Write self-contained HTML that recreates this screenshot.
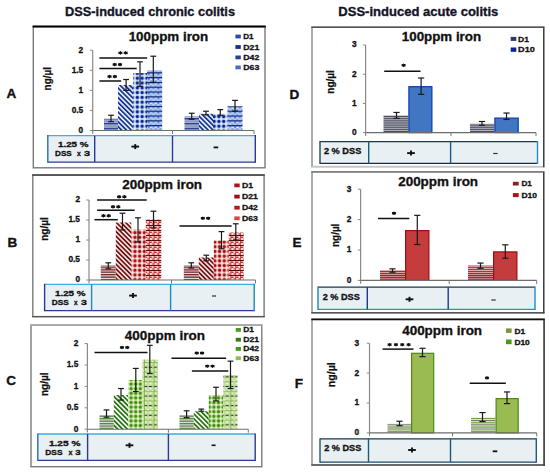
<!DOCTYPE html>
<html><head><meta charset="utf-8"><title>DSS-induced colitis iron</title>
<style>html,body{margin:0;padding:0;background:#fff;overflow:hidden;} svg text{font-family:"Liberation Sans", sans-serif;}</style>
</head><body>
<svg width="550" height="474" viewBox="0 0 550 474" style="display:block" font-family="Liberation Sans, sans-serif"><defs>
<pattern id="bH" patternUnits="userSpaceOnUse" width="4" height="4.9" y="0.3"><rect width="4" height="4.9" fill="#c4d2ee"/><rect y="0" width="4" height="1.5" fill="#1a2c9c"/><rect y="2.45" width="4" height="1.4" fill="#7c84a4"/></pattern>
<pattern id="bD" patternUnits="userSpaceOnUse" width="3.4" height="3.4" patternTransform="rotate(-45)"><rect width="3.4" height="3.4" fill="#dceafa"/><rect width="1.6" height="3.4" fill="#142a8c"/></pattern>
<pattern id="bO" patternUnits="userSpaceOnUse" width="4.8" height="4.8" x="0.5" y="-1"><rect width="4.8" height="4.8" fill="#bcd6f4"/><circle cx="2.4" cy="2.4" r="1.6" fill="#0e1e8a"/><circle cx="0" cy="0" r="0.9" fill="#eef6ff"/><circle cx="4.8" cy="0" r="0.9" fill="#eef6ff"/><circle cx="0" cy="4.8" r="0.9" fill="#eef6ff"/><circle cx="4.8" cy="4.8" r="0.9" fill="#eef6ff"/></pattern>
<pattern id="bB" patternUnits="userSpaceOnUse" width="9.6" height="4.8" y="0.3"><rect width="9.6" height="4.8" fill="#80a8e2"/><rect y="0" width="9.6" height="1.2" fill="#101c80"/><rect x="0.8" y="1.7" width="2.8" height="1" fill="#f4f8ff"/><rect x="5.6" y="1.7" width="2.8" height="1" fill="#f4f8ff"/><rect x="3.2" y="3.3" width="2.8" height="1" fill="#e8f2ff"/><rect x="8" y="3.3" width="1.6" height="1" fill="#e8f2ff"/><rect x="0" y="3.3" width="1.2" height="1" fill="#e8f2ff"/><rect x="4.4" y="1.2" width="0.8" height="1.8" fill="#2a4aa8"/></pattern>
<pattern id="rH" patternUnits="userSpaceOnUse" width="4" height="4.8" y="0.5"><rect width="4" height="4.8" fill="#f8e4e4"/><rect y="0" width="4" height="1.3" fill="#8c1010"/><rect y="2.4" width="4" height="1.2" fill="#3a2020"/></pattern>
<pattern id="rD" patternUnits="userSpaceOnUse" width="3.3" height="3.3" patternTransform="rotate(-45)"><rect width="3.3" height="3.3" fill="#f8dede"/><rect width="1.6" height="3.3" fill="#6a0c0c"/></pattern>
<pattern id="rO" patternUnits="userSpaceOnUse" width="4.7" height="4.7" x="1" y="0"><rect width="4.7" height="4.7" fill="#eec0c0"/><circle cx="2.35" cy="2.35" r="1.55" fill="#a80c0c"/><circle cx="0" cy="0" r="1.1" fill="#fbeaea"/><circle cx="4.7" cy="0" r="1.1" fill="#fbeaea"/><circle cx="0" cy="4.7" r="1.1" fill="#fbeaea"/><circle cx="4.7" cy="4.7" r="1.1" fill="#fbeaea"/></pattern>
<pattern id="rB" patternUnits="userSpaceOnUse" width="9.6" height="5"><rect width="9.6" height="5" fill="#f8e0e0"/><rect y="0" width="9.6" height="1" fill="#5a0c0c"/><rect x="0.8" y="1.6" width="2.4" height="1.4" fill="#d02a2a"/><rect x="5.6" y="1.6" width="2.4" height="1.4" fill="#d02a2a"/><rect x="3.2" y="3.4" width="2.4" height="1.2" fill="#d02a2a"/><rect x="8" y="3.4" width="1.6" height="1.2" fill="#d02a2a"/><rect x="0" y="1" width="0.7" height="4" fill="#b01818"/><rect x="4.8" y="1" width="0.7" height="4" fill="#b01818"/></pattern>
<pattern id="gH" patternUnits="userSpaceOnUse" width="4" height="4.8" y="0.5"><rect width="4" height="4.8" fill="#e4eedc"/><rect y="0" width="4" height="1.3" fill="#3e8a1e"/><rect y="2.4" width="4" height="1.3" fill="#6c6c6c"/></pattern>
<pattern id="gD" patternUnits="userSpaceOnUse" width="3.4" height="3.4" patternTransform="rotate(-45)"><rect width="3.4" height="3.4" fill="#f2f8ea"/><rect width="1.6" height="3.4" fill="#1e6a0c"/></pattern>
<pattern id="gO" patternUnits="userSpaceOnUse" width="4.6" height="4.6"><rect width="4.6" height="4.6" fill="#c2de96"/><circle cx="2.3" cy="2.3" r="1.55" fill="#3c8e12"/><circle cx="0" cy="0" r="0.9" fill="#f4faec"/><circle cx="4.6" cy="0" r="0.9" fill="#f4faec"/><circle cx="0" cy="4.6" r="0.9" fill="#f4faec"/><circle cx="4.6" cy="4.6" r="0.9" fill="#f4faec"/></pattern>
<pattern id="gB" patternUnits="userSpaceOnUse" width="9.6" height="9.6" y="2"><rect width="9.6" height="9.6" fill="#c0de94"/><rect x="0.6" y="1.6" width="1.8" height="1.6" fill="#f6fbef"/><rect x="5.4" y="1.6" width="1.8" height="1.6" fill="#f6fbef"/><rect x="3" y="3.8" width="1.8" height="1.6" fill="#f6fbef"/><rect x="7.8" y="3.8" width="1.6" height="1.6" fill="#f6fbef"/><rect x="0.6" y="6.4" width="1.8" height="1.6" fill="#f6fbef"/><rect x="5.4" y="6.4" width="1.8" height="1.6" fill="#f6fbef"/><rect x="0" y="0" width="3.2" height="1" fill="#2a2a2a"/><rect x="4.8" y="0" width="3.2" height="1" fill="#2a2a2a"/><rect x="0" y="4.8" width="9.6" height="0.7" fill="#7ab048"/><rect x="0" y="0" width="0.8" height="9.6" fill="#78ae40"/></pattern>
<pattern id="kH" patternUnits="userSpaceOnUse" width="4" height="1.9"><rect width="4" height="1.9" fill="#d4d6de"/><rect y="0" width="4" height="1.05" fill="#3c3e50"/></pattern>
<pattern id="eH" patternUnits="userSpaceOnUse" width="4" height="2.1"><rect width="4" height="2.1" fill="#a41c1c"/><rect y="1.2" width="4" height="0.75" fill="#f2e2e2"/></pattern>
<pattern id="fH" patternUnits="userSpaceOnUse" width="4" height="3.8"><rect width="4" height="3.8" fill="#eef4e4"/><rect y="0" width="4" height="1" fill="#6aa030"/><rect y="1.9" width="4" height="1" fill="#6a6a6a"/></pattern>
</defs>
<rect width="550" height="474" fill="#fff"/><text x="65" y="15.6" font-size="13" font-weight="bold" fill="#141428" text-anchor="start" textLength="170" lengthAdjust="spacingAndGlyphs" stroke="#141428" stroke-width="0.35" >DSS-induced chronic colitis</text><text x="338.3" y="15.6" font-size="13" font-weight="bold" fill="#141428" text-anchor="start" textLength="160" lengthAdjust="spacingAndGlyphs" stroke="#141428" stroke-width="0.35" >DSS-induced acute colitis</text><rect x="33.30" y="26.60" width="231.70" height="141.20" fill="#fff" stroke="#7a7a7a" stroke-width="1.4" /><line x1="32.60" y1="26.60" x2="265.70" y2="26.60" stroke="#000" stroke-width="2"/><text x="6.6" y="97.8" font-size="13.5" font-weight="bold" fill="#111" text-anchor="start" stroke="#111" stroke-width="0.35" >A</text><rect x="104.00" y="118.80" width="14.00" height="11.70" fill="url(#bH)" stroke="none" stroke-width="1" /><rect x="118.00" y="85.00" width="15.30" height="45.50" fill="url(#bD)" stroke="none" stroke-width="1" /><rect x="133.30" y="73.10" width="13.70" height="57.40" fill="url(#bO)" stroke="none" stroke-width="1" /><rect x="147.00" y="70.30" width="15.20" height="60.20" fill="url(#bB)" stroke="none" stroke-width="1" /><rect x="184.50" y="116.30" width="14.50" height="14.20" fill="url(#bH)" stroke="none" stroke-width="1" /><rect x="199.00" y="113.80" width="14.00" height="16.70" fill="url(#bD)" stroke="none" stroke-width="1" /><rect x="213.00" y="113.80" width="14.50" height="16.70" fill="url(#bO)" stroke="none" stroke-width="1" /><rect x="227.50" y="106.30" width="15.00" height="24.20" fill="url(#bB)" stroke="none" stroke-width="1" /><line x1="92.70" y1="50.20" x2="92.70" y2="133.80" stroke="#8a8a8a" stroke-width="1.2"/><line x1="89.90" y1="130.50" x2="92.70" y2="130.50" stroke="#8a8a8a" stroke-width="1"/><text x="83.2" y="132.95" font-size="8.3" font-weight="bold" fill="#111" text-anchor="end" stroke="#111" stroke-width="0.3" >0</text><line x1="89.90" y1="110.42" x2="92.70" y2="110.42" stroke="#8a8a8a" stroke-width="1"/><text x="83.2" y="112.875" font-size="8.3" font-weight="bold" fill="#111" text-anchor="end" stroke="#111" stroke-width="0.3" >0.5</text><line x1="89.90" y1="90.35" x2="92.70" y2="90.35" stroke="#8a8a8a" stroke-width="1"/><text x="83.2" y="92.8" font-size="8.3" font-weight="bold" fill="#111" text-anchor="end" stroke="#111" stroke-width="0.3" >1</text><line x1="89.90" y1="70.28" x2="92.70" y2="70.28" stroke="#8a8a8a" stroke-width="1"/><text x="83.2" y="72.72500000000001" font-size="8.3" font-weight="bold" fill="#111" text-anchor="end" stroke="#111" stroke-width="0.3" >1.5</text><line x1="89.90" y1="50.20" x2="92.70" y2="50.20" stroke="#8a8a8a" stroke-width="1"/><text x="83.2" y="52.650000000000006" font-size="8.3" font-weight="bold" fill="#111" text-anchor="end" stroke="#111" stroke-width="0.3" >2</text><line x1="92.70" y1="130.50" x2="254.00" y2="130.50" stroke="#6e6e6e" stroke-width="1.1"/><line x1="172.50" y1="130.50" x2="172.50" y2="134.00" stroke="#777" stroke-width="1"/><line x1="254.00" y1="130.50" x2="254.00" y2="134.00" stroke="#777" stroke-width="1"/><text x="0" y="0" transform="translate(50.5,78.7) rotate(-90)" font-size="11.5" font-weight="bold" fill="#111" stroke="#111" stroke-width="0.25" text-anchor="middle" textLength="23.4" lengthAdjust="spacingAndGlyphs">ng/µl</text><line x1="111.00" y1="115.24" x2="111.00" y2="121.67" stroke="#1a1a1a" stroke-width="1.2"/><line x1="108.10" y1="115.24" x2="113.90" y2="115.24" stroke="#1a1a1a" stroke-width="1.2"/><line x1="108.10" y1="121.67" x2="113.90" y2="121.67" stroke="#1a1a1a" stroke-width="1.2"/><line x1="126.10" y1="79.51" x2="126.10" y2="90.35" stroke="#1a1a1a" stroke-width="1.2"/><line x1="123.20" y1="79.51" x2="129.00" y2="79.51" stroke="#1a1a1a" stroke-width="1.2"/><line x1="123.20" y1="90.35" x2="129.00" y2="90.35" stroke="#1a1a1a" stroke-width="1.2"/><line x1="140.00" y1="61.84" x2="140.00" y2="86.34" stroke="#1a1a1a" stroke-width="1.2"/><line x1="137.10" y1="61.84" x2="142.90" y2="61.84" stroke="#1a1a1a" stroke-width="1.2"/><line x1="137.10" y1="86.34" x2="142.90" y2="86.34" stroke="#1a1a1a" stroke-width="1.2"/><line x1="153.30" y1="56.22" x2="153.30" y2="82.32" stroke="#1a1a1a" stroke-width="1.2"/><line x1="150.40" y1="56.22" x2="156.20" y2="56.22" stroke="#1a1a1a" stroke-width="1.2"/><line x1="150.40" y1="82.32" x2="156.20" y2="82.32" stroke="#1a1a1a" stroke-width="1.2"/><line x1="191.70" y1="113.24" x2="191.70" y2="119.26" stroke="#1a1a1a" stroke-width="1.2"/><line x1="188.80" y1="113.24" x2="194.60" y2="113.24" stroke="#1a1a1a" stroke-width="1.2"/><line x1="188.80" y1="119.26" x2="194.60" y2="119.26" stroke="#1a1a1a" stroke-width="1.2"/><line x1="206.00" y1="111.23" x2="206.00" y2="114.84" stroke="#1a1a1a" stroke-width="1.2"/><line x1="203.10" y1="111.23" x2="208.90" y2="111.23" stroke="#1a1a1a" stroke-width="1.2"/><line x1="203.10" y1="114.84" x2="208.90" y2="114.84" stroke="#1a1a1a" stroke-width="1.2"/><line x1="220.30" y1="109.62" x2="220.30" y2="115.24" stroke="#1a1a1a" stroke-width="1.2"/><line x1="217.40" y1="109.62" x2="223.20" y2="109.62" stroke="#1a1a1a" stroke-width="1.2"/><line x1="217.40" y1="115.24" x2="223.20" y2="115.24" stroke="#1a1a1a" stroke-width="1.2"/><line x1="235.00" y1="100.39" x2="235.00" y2="111.23" stroke="#1a1a1a" stroke-width="1.2"/><line x1="232.10" y1="100.39" x2="237.90" y2="100.39" stroke="#1a1a1a" stroke-width="1.2"/><line x1="232.10" y1="111.23" x2="237.90" y2="111.23" stroke="#1a1a1a" stroke-width="1.2"/><line x1="99.40" y1="57.90" x2="147.10" y2="57.90" stroke="#111" stroke-width="1.5"/><path d="M120.40,51.70V54.00M118.90,52.22L121.90,53.48M118.90,53.48L121.90,52.22" stroke="#111" stroke-width="1.25" stroke-linecap="round" fill="none"/><circle cx="120.40" cy="52.85" r="1.1" fill="#111"/><path d="M125.70,51.70V54.00M124.20,52.22L127.20,53.48M124.20,53.48L127.20,52.22" stroke="#111" stroke-width="1.25" stroke-linecap="round" fill="none"/><circle cx="125.70" cy="52.85" r="1.1" fill="#111"/><line x1="99.40" y1="68.40" x2="136.70" y2="68.40" stroke="#111" stroke-width="1.5"/><path d="M114.70,63.40V65.70M113.20,63.92L116.20,65.18M113.20,65.18L116.20,63.92" stroke="#111" stroke-width="1.25" stroke-linecap="round" fill="none"/><circle cx="114.70" cy="64.55" r="1.1" fill="#111"/><path d="M120.00,63.40V65.70M118.50,63.92L121.50,65.18M118.50,65.18L121.50,63.92" stroke="#111" stroke-width="1.25" stroke-linecap="round" fill="none"/><circle cx="120.00" cy="64.55" r="1.1" fill="#111"/><line x1="99.40" y1="81.00" x2="121.20" y2="81.00" stroke="#111" stroke-width="1.5"/><path d="M109.55,75.40V77.70M108.05,75.92L111.05,77.18M108.05,77.18L111.05,75.92" stroke="#111" stroke-width="1.25" stroke-linecap="round" fill="none"/><circle cx="109.55" cy="76.55" r="1.1" fill="#111"/><path d="M114.85,75.40V77.70M113.35,75.92L116.35,77.18M113.35,77.18L116.35,75.92" stroke="#111" stroke-width="1.25" stroke-linecap="round" fill="none"/><circle cx="114.85" cy="76.55" r="1.1" fill="#111"/><text x="128.7" y="41.2" font-size="12" font-weight="bold" fill="#111" text-anchor="start" textLength="79.5" lengthAdjust="spacingAndGlyphs" stroke="#111" stroke-width="0.3" >100ppm iron</text><rect x="235.40" y="34.60" width="5.40" height="3.80" fill="#2a4ab0" stroke="none" stroke-width="1" /><text x="243.2" y="39" font-size="7.6" font-weight="bold" fill="#111" text-anchor="start" textLength="10.4" lengthAdjust="spacingAndGlyphs" stroke="#111" stroke-width="0.3" >D1</text><rect x="235.40" y="45.10" width="5.40" height="3.80" fill="#1c2c90" stroke="none" stroke-width="1" /><text x="243.2" y="49.5" font-size="7.6" font-weight="bold" fill="#111" text-anchor="start" textLength="16.1" lengthAdjust="spacingAndGlyphs" stroke="#111" stroke-width="0.3" >D21</text><rect x="235.40" y="55.50" width="5.40" height="3.80" fill="#2440a4" stroke="none" stroke-width="1" /><text x="243.2" y="59.9" font-size="7.6" font-weight="bold" fill="#111" text-anchor="start" textLength="16.1" lengthAdjust="spacingAndGlyphs" stroke="#111" stroke-width="0.3" >D42</text><rect x="235.40" y="65.50" width="5.40" height="3.80" fill="#4a6cc0" stroke="none" stroke-width="1" /><text x="243.2" y="69.9" font-size="7.6" font-weight="bold" fill="#111" text-anchor="start" textLength="16.1" lengthAdjust="spacingAndGlyphs" stroke="#111" stroke-width="0.3" >D63</text><rect x="47.80" y="135.70" width="207.50" height="26.40" fill="#e9f0f3" stroke="none" stroke-width="1" /><line x1="47.80" y1="135.70" x2="255.30" y2="135.70" stroke="#3ab0e0" stroke-width="1.3"/><line x1="47.80" y1="162.10" x2="255.30" y2="162.10" stroke="#2a3a9a" stroke-width="1.3"/><line x1="47.80" y1="135.10" x2="47.80" y2="162.70" stroke="#1e6fb8" stroke-width="1.4"/><line x1="255.30" y1="135.10" x2="255.30" y2="162.70" stroke="#2a3a9a" stroke-width="1.4"/><line x1="94.70" y1="135.70" x2="94.70" y2="162.10" stroke="#2a3a9a" stroke-width="1.4"/><line x1="172.50" y1="135.70" x2="172.50" y2="162.10" stroke="#2a3a9a" stroke-width="1.4"/><text x="58" y="147.1" font-size="7.4" font-weight="bold" fill="#111" text-anchor="start" textLength="30.5" lengthAdjust="spacingAndGlyphs" stroke="#111" stroke-width="0.3" >1.25 %</text><text x="55.1" y="155.7" font-size="7.4" font-weight="bold" fill="#111" text-anchor="start" textLength="16.7" lengthAdjust="spacingAndGlyphs" stroke="#111" stroke-width="0.3" >DSS</text><text x="77.1" y="155.7" font-size="7.4" font-weight="bold" fill="#111" text-anchor="start" textLength="3.8" lengthAdjust="spacingAndGlyphs" stroke="#111" stroke-width="0.3" >x</text><text x="83.9" y="155.7" font-size="7.4" font-weight="bold" fill="#111" text-anchor="start" textLength="6.1" lengthAdjust="spacingAndGlyphs" stroke="#111" stroke-width="0.3" >3</text><line x1="131.40" y1="146.60" x2="139.10" y2="146.60" stroke="#111" stroke-width="1.9"/><line x1="135.25" y1="144.10" x2="135.25" y2="149.10" stroke="#111" stroke-width="1.9"/><line x1="213.60" y1="147.40" x2="218.20" y2="147.40" stroke="#111" stroke-width="1.8"/><rect x="32.80" y="175.10" width="231.30" height="141.50" fill="#fff" stroke="#7a7a7a" stroke-width="1.4" /><line x1="32.10" y1="175.10" x2="264.80" y2="175.10" stroke="#444" stroke-width="1.5"/><line x1="32.10" y1="316.60" x2="264.80" y2="316.60" stroke="#555" stroke-width="1.4"/><text x="7.4" y="247.2" font-size="13.5" font-weight="bold" fill="#111" text-anchor="start" stroke="#111" stroke-width="0.35" >B</text><rect x="100.80" y="265.50" width="15.00" height="14.50" fill="url(#rH)" stroke="none" stroke-width="1" /><rect x="115.80" y="222.50" width="15.50" height="57.50" fill="url(#rD)" stroke="none" stroke-width="1" /><rect x="131.30" y="229.50" width="14.50" height="50.50" fill="url(#rO)" stroke="none" stroke-width="1" /><rect x="145.80" y="219.50" width="15.50" height="60.50" fill="url(#rB)" stroke="none" stroke-width="1" /><rect x="183.80" y="265.50" width="15.00" height="14.50" fill="url(#rH)" stroke="none" stroke-width="1" /><rect x="198.80" y="257.50" width="15.00" height="22.50" fill="url(#rD)" stroke="none" stroke-width="1" /><rect x="213.80" y="240.50" width="15.00" height="39.50" fill="url(#rO)" stroke="none" stroke-width="1" /><rect x="228.80" y="232.50" width="15.00" height="47.50" fill="url(#rB)" stroke="none" stroke-width="1" /><line x1="89.00" y1="200.00" x2="89.00" y2="283.30" stroke="#8a8a8a" stroke-width="1.2"/><line x1="86.20" y1="280.00" x2="89.00" y2="280.00" stroke="#8a8a8a" stroke-width="1"/><text x="80" y="282.45" font-size="8.3" font-weight="bold" fill="#111" text-anchor="end" stroke="#111" stroke-width="0.3" >0</text><line x1="86.20" y1="260.00" x2="89.00" y2="260.00" stroke="#8a8a8a" stroke-width="1"/><text x="80" y="262.45" font-size="8.3" font-weight="bold" fill="#111" text-anchor="end" stroke="#111" stroke-width="0.3" >0.5</text><line x1="86.20" y1="240.00" x2="89.00" y2="240.00" stroke="#8a8a8a" stroke-width="1"/><text x="80" y="242.45" font-size="8.3" font-weight="bold" fill="#111" text-anchor="end" stroke="#111" stroke-width="0.3" >1</text><line x1="86.20" y1="220.00" x2="89.00" y2="220.00" stroke="#8a8a8a" stroke-width="1"/><text x="80" y="222.45" font-size="8.3" font-weight="bold" fill="#111" text-anchor="end" stroke="#111" stroke-width="0.3" >1.5</text><line x1="86.20" y1="200.00" x2="89.00" y2="200.00" stroke="#8a8a8a" stroke-width="1"/><text x="80" y="202.45" font-size="8.3" font-weight="bold" fill="#111" text-anchor="end" stroke="#111" stroke-width="0.3" >2</text><line x1="89.00" y1="280.00" x2="255.50" y2="280.00" stroke="#6e6e6e" stroke-width="1.1"/><line x1="171.50" y1="280.00" x2="171.50" y2="283.50" stroke="#777" stroke-width="1"/><line x1="255.50" y1="280.00" x2="255.50" y2="283.50" stroke="#777" stroke-width="1"/><text x="0" y="0" transform="translate(48.1,229) rotate(-90)" font-size="11.5" font-weight="bold" fill="#111" stroke="#111" stroke-width="0.25" text-anchor="middle" textLength="23.5" lengthAdjust="spacingAndGlyphs">ng/µl</text><line x1="108.30" y1="262.80" x2="108.30" y2="268.80" stroke="#1a1a1a" stroke-width="1.2"/><line x1="105.40" y1="262.80" x2="111.20" y2="262.80" stroke="#1a1a1a" stroke-width="1.2"/><line x1="105.40" y1="268.80" x2="111.20" y2="268.80" stroke="#1a1a1a" stroke-width="1.2"/><line x1="122.50" y1="213.20" x2="122.50" y2="230.00" stroke="#1a1a1a" stroke-width="1.2"/><line x1="119.60" y1="213.20" x2="125.40" y2="213.20" stroke="#1a1a1a" stroke-width="1.2"/><line x1="119.60" y1="230.00" x2="125.40" y2="230.00" stroke="#1a1a1a" stroke-width="1.2"/><line x1="138.00" y1="217.80" x2="138.00" y2="242.00" stroke="#1a1a1a" stroke-width="1.2"/><line x1="135.10" y1="217.80" x2="140.90" y2="217.80" stroke="#1a1a1a" stroke-width="1.2"/><line x1="135.10" y1="242.00" x2="140.90" y2="242.00" stroke="#1a1a1a" stroke-width="1.2"/><line x1="153.50" y1="211.20" x2="153.50" y2="228.00" stroke="#1a1a1a" stroke-width="1.2"/><line x1="150.60" y1="211.20" x2="156.40" y2="211.20" stroke="#1a1a1a" stroke-width="1.2"/><line x1="150.60" y1="228.00" x2="156.40" y2="228.00" stroke="#1a1a1a" stroke-width="1.2"/><line x1="191.30" y1="262.80" x2="191.30" y2="268.00" stroke="#1a1a1a" stroke-width="1.2"/><line x1="188.40" y1="262.80" x2="194.20" y2="262.80" stroke="#1a1a1a" stroke-width="1.2"/><line x1="188.40" y1="268.00" x2="194.20" y2="268.00" stroke="#1a1a1a" stroke-width="1.2"/><line x1="206.30" y1="255.20" x2="206.30" y2="260.80" stroke="#1a1a1a" stroke-width="1.2"/><line x1="203.40" y1="255.20" x2="209.20" y2="255.20" stroke="#1a1a1a" stroke-width="1.2"/><line x1="203.40" y1="260.80" x2="209.20" y2="260.80" stroke="#1a1a1a" stroke-width="1.2"/><line x1="221.50" y1="231.60" x2="221.50" y2="248.80" stroke="#1a1a1a" stroke-width="1.2"/><line x1="218.60" y1="231.60" x2="224.40" y2="231.60" stroke="#1a1a1a" stroke-width="1.2"/><line x1="218.60" y1="248.80" x2="224.40" y2="248.80" stroke="#1a1a1a" stroke-width="1.2"/><line x1="235.80" y1="223.80" x2="235.80" y2="240.00" stroke="#1a1a1a" stroke-width="1.2"/><line x1="232.90" y1="223.80" x2="238.70" y2="223.80" stroke="#1a1a1a" stroke-width="1.2"/><line x1="232.90" y1="240.00" x2="238.70" y2="240.00" stroke="#1a1a1a" stroke-width="1.2"/><line x1="97.10" y1="200.00" x2="146.70" y2="200.00" stroke="#111" stroke-width="1.5"/><path d="M119.10,195.60V197.90M117.60,196.12L120.60,197.38M117.60,197.38L120.60,196.12" stroke="#111" stroke-width="1.25" stroke-linecap="round" fill="none"/><circle cx="119.10" cy="196.75" r="1.1" fill="#111"/><path d="M124.40,195.60V197.90M122.90,196.12L125.90,197.38M122.90,197.38L125.90,196.12" stroke="#111" stroke-width="1.25" stroke-linecap="round" fill="none"/><circle cx="124.40" cy="196.75" r="1.1" fill="#111"/><line x1="97.10" y1="210.20" x2="134.70" y2="210.20" stroke="#111" stroke-width="1.5"/><path d="M113.00,205.60V207.90M111.50,206.12L114.50,207.38M111.50,207.38L114.50,206.12" stroke="#111" stroke-width="1.25" stroke-linecap="round" fill="none"/><circle cx="113.00" cy="206.75" r="1.1" fill="#111"/><path d="M118.30,205.60V207.90M116.80,206.12L119.80,207.38M116.80,207.38L119.80,206.12" stroke="#111" stroke-width="1.25" stroke-linecap="round" fill="none"/><circle cx="118.30" cy="206.75" r="1.1" fill="#111"/><line x1="94.40" y1="219.70" x2="117.80" y2="219.70" stroke="#111" stroke-width="1.5"/><path d="M103.45,214.60V216.90M101.95,215.12L104.95,216.38M101.95,216.38L104.95,215.12" stroke="#111" stroke-width="1.25" stroke-linecap="round" fill="none"/><circle cx="103.45" cy="215.75" r="1.1" fill="#111"/><path d="M108.75,214.60V216.90M107.25,215.12L110.25,216.38M107.25,216.38L110.25,215.12" stroke="#111" stroke-width="1.25" stroke-linecap="round" fill="none"/><circle cx="108.75" cy="215.75" r="1.1" fill="#111"/><line x1="179.50" y1="226.00" x2="231.60" y2="226.00" stroke="#111" stroke-width="1.5"/><path d="M202.85,217.10V219.40M201.35,217.62L204.35,218.88M201.35,218.88L204.35,217.62" stroke="#111" stroke-width="1.25" stroke-linecap="round" fill="none"/><circle cx="202.85" cy="218.25" r="1.1" fill="#111"/><path d="M208.15,217.10V219.40M206.65,217.62L209.65,218.88M206.65,218.88L209.65,217.62" stroke="#111" stroke-width="1.25" stroke-linecap="round" fill="none"/><circle cx="208.15" cy="218.25" r="1.1" fill="#111"/><text x="122.2" y="189.4" font-size="12" font-weight="bold" fill="#111" text-anchor="start" textLength="79.9" lengthAdjust="spacingAndGlyphs" stroke="#111" stroke-width="0.3" >200ppm iron</text><rect x="234.30" y="183.50" width="5.40" height="3.80" fill="#a81818" stroke="none" stroke-width="1" /><text x="242" y="188.1" font-size="7.6" font-weight="bold" fill="#111" text-anchor="start" textLength="11.1" lengthAdjust="spacingAndGlyphs" stroke="#111" stroke-width="0.3" >D1</text><rect x="234.30" y="194.70" width="5.40" height="3.80" fill="#9a1010" stroke="none" stroke-width="1" /><text x="242" y="199.3" font-size="7.6" font-weight="bold" fill="#111" text-anchor="start" textLength="15.9" lengthAdjust="spacingAndGlyphs" stroke="#111" stroke-width="0.3" >D21</text><rect x="234.30" y="205.80" width="5.40" height="3.80" fill="#b41818" stroke="none" stroke-width="1" /><text x="242" y="210.4" font-size="7.6" font-weight="bold" fill="#111" text-anchor="start" textLength="15.9" lengthAdjust="spacingAndGlyphs" stroke="#111" stroke-width="0.3" >D42</text><rect x="234.30" y="216.40" width="5.40" height="3.80" fill="#d04848" stroke="none" stroke-width="1" /><text x="242" y="221" font-size="7.6" font-weight="bold" fill="#111" text-anchor="start" textLength="15.9" lengthAdjust="spacingAndGlyphs" stroke="#111" stroke-width="0.3" >D63</text><rect x="44.60" y="284.40" width="209.60" height="26.20" fill="#e9f0f3" stroke="none" stroke-width="1" /><line x1="44.60" y1="284.40" x2="254.20" y2="284.40" stroke="#3ab0e0" stroke-width="1.3"/><line x1="44.60" y1="310.60" x2="254.20" y2="310.60" stroke="#2a3a9a" stroke-width="1.3"/><line x1="44.60" y1="283.80" x2="44.60" y2="311.20" stroke="#2a3a9a" stroke-width="1.4"/><line x1="254.20" y1="283.80" x2="254.20" y2="311.20" stroke="#1a8ab0" stroke-width="1.4"/><line x1="91.60" y1="284.40" x2="91.60" y2="310.60" stroke="#1e8ac0" stroke-width="1.4"/><line x1="170.60" y1="284.40" x2="170.60" y2="310.60" stroke="#1e8ac0" stroke-width="1.4"/><text x="55" y="295.5" font-size="7.4" font-weight="bold" fill="#111" text-anchor="start" textLength="30.5" lengthAdjust="spacingAndGlyphs" stroke="#111" stroke-width="0.3" >1.25 %</text><text x="51.8" y="305.3" font-size="7.4" font-weight="bold" fill="#111" text-anchor="start" textLength="17" lengthAdjust="spacingAndGlyphs" stroke="#111" stroke-width="0.3" >DSS</text><text x="74.1" y="305.3" font-size="7.4" font-weight="bold" fill="#111" text-anchor="start" textLength="3.6" lengthAdjust="spacingAndGlyphs" stroke="#111" stroke-width="0.3" >x</text><text x="80.9" y="305.3" font-size="7.4" font-weight="bold" fill="#111" text-anchor="start" textLength="5.9" lengthAdjust="spacingAndGlyphs" stroke="#111" stroke-width="0.3" >3</text><line x1="129.15" y1="295.60" x2="136.85" y2="295.60" stroke="#111" stroke-width="1.9"/><line x1="133.00" y1="293.10" x2="133.00" y2="298.10" stroke="#111" stroke-width="1.9"/><line x1="212.00" y1="296.00" x2="216.00" y2="296.00" stroke="#333" stroke-width="1.2"/><rect x="31.00" y="325.10" width="230.80" height="141.60" fill="#fff" stroke="#7a7a7a" stroke-width="1.4" /><line x1="30.30" y1="325.10" x2="262.50" y2="325.10" stroke="#b0b0b0" stroke-width="1.2"/><text x="6.2" y="385.4" font-size="13.5" font-weight="bold" fill="#111" text-anchor="start" stroke="#111" stroke-width="0.35" >C</text><rect x="99.50" y="415.00" width="14.30" height="14.20" fill="url(#gH)" stroke="none" stroke-width="1" /><rect x="113.80" y="395.00" width="14.50" height="34.20" fill="url(#gD)" stroke="none" stroke-width="1" /><rect x="128.30" y="380.00" width="14.20" height="49.20" fill="url(#gO)" stroke="none" stroke-width="1" /><rect x="142.50" y="359.50" width="15.50" height="69.70" fill="url(#gB)" stroke="none" stroke-width="1" /><rect x="179.50" y="415.00" width="14.30" height="14.20" fill="url(#gH)" stroke="none" stroke-width="1" /><rect x="193.80" y="411.30" width="15.00" height="17.90" fill="url(#gD)" stroke="none" stroke-width="1" /><rect x="208.80" y="395.00" width="14.50" height="34.20" fill="url(#gO)" stroke="none" stroke-width="1" /><rect x="223.30" y="375.00" width="14.20" height="54.20" fill="url(#gB)" stroke="none" stroke-width="1" /><line x1="87.40" y1="343.60" x2="87.40" y2="432.50" stroke="#8a8a8a" stroke-width="1.2"/><line x1="84.60" y1="429.20" x2="87.40" y2="429.20" stroke="#8a8a8a" stroke-width="1"/><text x="78.3" y="431.65" font-size="8.3" font-weight="bold" fill="#111" text-anchor="end" stroke="#111" stroke-width="0.3" >0</text><line x1="84.60" y1="407.80" x2="87.40" y2="407.80" stroke="#8a8a8a" stroke-width="1"/><text x="78.3" y="410.25" font-size="8.3" font-weight="bold" fill="#111" text-anchor="end" stroke="#111" stroke-width="0.3" >0.5</text><line x1="84.60" y1="386.40" x2="87.40" y2="386.40" stroke="#8a8a8a" stroke-width="1"/><text x="78.3" y="388.84999999999997" font-size="8.3" font-weight="bold" fill="#111" text-anchor="end" stroke="#111" stroke-width="0.3" >1</text><line x1="84.60" y1="365.00" x2="87.40" y2="365.00" stroke="#8a8a8a" stroke-width="1"/><text x="78.3" y="367.45" font-size="8.3" font-weight="bold" fill="#111" text-anchor="end" stroke="#111" stroke-width="0.3" >1.5</text><line x1="84.60" y1="343.60" x2="87.40" y2="343.60" stroke="#8a8a8a" stroke-width="1"/><text x="78.3" y="346.05" font-size="8.3" font-weight="bold" fill="#111" text-anchor="end" stroke="#111" stroke-width="0.3" >2</text><line x1="87.40" y1="429.20" x2="248.30" y2="429.20" stroke="#6e6e6e" stroke-width="1.1"/><line x1="168.40" y1="429.20" x2="168.40" y2="432.70" stroke="#777" stroke-width="1"/><line x1="248.30" y1="429.20" x2="248.30" y2="432.70" stroke="#777" stroke-width="1"/><text x="0" y="0" transform="translate(48,384.3) rotate(-90)" font-size="11.5" font-weight="bold" fill="#111" stroke="#111" stroke-width="0.25" text-anchor="middle" textLength="23.5" lengthAdjust="spacingAndGlyphs">ng/µl</text><line x1="106.50" y1="409.94" x2="106.50" y2="417.22" stroke="#1a1a1a" stroke-width="1.2"/><line x1="103.60" y1="409.94" x2="109.40" y2="409.94" stroke="#1a1a1a" stroke-width="1.2"/><line x1="103.60" y1="417.22" x2="109.40" y2="417.22" stroke="#1a1a1a" stroke-width="1.2"/><line x1="121.00" y1="388.54" x2="121.00" y2="400.10" stroke="#1a1a1a" stroke-width="1.2"/><line x1="118.10" y1="388.54" x2="123.90" y2="388.54" stroke="#1a1a1a" stroke-width="1.2"/><line x1="118.10" y1="400.10" x2="123.90" y2="400.10" stroke="#1a1a1a" stroke-width="1.2"/><line x1="135.80" y1="368.42" x2="135.80" y2="391.54" stroke="#1a1a1a" stroke-width="1.2"/><line x1="132.90" y1="368.42" x2="138.70" y2="368.42" stroke="#1a1a1a" stroke-width="1.2"/><line x1="132.90" y1="391.54" x2="138.70" y2="391.54" stroke="#1a1a1a" stroke-width="1.2"/><line x1="149.80" y1="345.31" x2="149.80" y2="373.56" stroke="#1a1a1a" stroke-width="1.2"/><line x1="146.90" y1="345.31" x2="152.70" y2="345.31" stroke="#1a1a1a" stroke-width="1.2"/><line x1="146.90" y1="373.56" x2="152.70" y2="373.56" stroke="#1a1a1a" stroke-width="1.2"/><line x1="186.60" y1="410.80" x2="186.60" y2="417.64" stroke="#1a1a1a" stroke-width="1.2"/><line x1="183.70" y1="410.80" x2="189.50" y2="410.80" stroke="#1a1a1a" stroke-width="1.2"/><line x1="183.70" y1="417.64" x2="189.50" y2="417.64" stroke="#1a1a1a" stroke-width="1.2"/><line x1="201.30" y1="409.08" x2="201.30" y2="411.22" stroke="#1a1a1a" stroke-width="1.2"/><line x1="198.40" y1="409.08" x2="204.20" y2="409.08" stroke="#1a1a1a" stroke-width="1.2"/><line x1="198.40" y1="411.22" x2="204.20" y2="411.22" stroke="#1a1a1a" stroke-width="1.2"/><line x1="216.00" y1="387.26" x2="216.00" y2="400.95" stroke="#1a1a1a" stroke-width="1.2"/><line x1="213.10" y1="387.26" x2="218.90" y2="387.26" stroke="#1a1a1a" stroke-width="1.2"/><line x1="213.10" y1="400.95" x2="218.90" y2="400.95" stroke="#1a1a1a" stroke-width="1.2"/><line x1="230.50" y1="361.15" x2="230.50" y2="388.54" stroke="#1a1a1a" stroke-width="1.2"/><line x1="227.60" y1="361.15" x2="233.40" y2="361.15" stroke="#1a1a1a" stroke-width="1.2"/><line x1="227.60" y1="388.54" x2="233.40" y2="388.54" stroke="#1a1a1a" stroke-width="1.2"/><line x1="94.50" y1="352.40" x2="147.50" y2="352.40" stroke="#111" stroke-width="1.5"/><path d="M121.95,346.30V348.60M120.45,346.82L123.45,348.08M120.45,348.08L123.45,346.82" stroke="#111" stroke-width="1.25" stroke-linecap="round" fill="none"/><circle cx="121.95" cy="347.45" r="1.1" fill="#111"/><path d="M127.25,346.30V348.60M125.75,346.82L128.75,348.08M125.75,348.08L128.75,346.82" stroke="#111" stroke-width="1.25" stroke-linecap="round" fill="none"/><circle cx="127.25" cy="347.45" r="1.1" fill="#111"/><line x1="171.50" y1="358.20" x2="226.10" y2="358.20" stroke="#111" stroke-width="1.5"/><path d="M196.75,351.90V354.20M195.25,352.42L198.25,353.68M195.25,353.68L198.25,352.42" stroke="#111" stroke-width="1.25" stroke-linecap="round" fill="none"/><circle cx="196.75" cy="353.05" r="1.1" fill="#111"/><path d="M202.05,351.90V354.20M200.55,352.42L203.55,353.68M200.55,353.68L203.55,352.42" stroke="#111" stroke-width="1.25" stroke-linecap="round" fill="none"/><circle cx="202.05" cy="353.05" r="1.1" fill="#111"/><line x1="191.90" y1="371.00" x2="228.30" y2="371.00" stroke="#111" stroke-width="1.5"/><path d="M207.25,365.00V367.30M205.75,365.52L208.75,366.78M205.75,366.78L208.75,365.52" stroke="#111" stroke-width="1.25" stroke-linecap="round" fill="none"/><circle cx="207.25" cy="366.15" r="1.1" fill="#111"/><path d="M212.55,365.00V367.30M211.05,365.52L214.05,366.78M211.05,366.78L214.05,365.52" stroke="#111" stroke-width="1.25" stroke-linecap="round" fill="none"/><circle cx="212.55" cy="366.15" r="1.1" fill="#111"/><text x="124.8" y="339.6" font-size="12" font-weight="bold" fill="#111" text-anchor="start" textLength="80.1" lengthAdjust="spacingAndGlyphs" stroke="#111" stroke-width="0.3" >400ppm iron</text><rect x="235.70" y="328.00" width="5.20" height="3.80" fill="#4a9a2a" stroke="none" stroke-width="1" /><text x="243.2" y="332.2" font-size="7.6" font-weight="bold" fill="#111" text-anchor="start" textLength="10.7" lengthAdjust="spacingAndGlyphs" stroke="#111" stroke-width="0.3" >D1</text><rect x="235.70" y="337.80" width="5.20" height="3.80" fill="#3a7a1a" stroke="none" stroke-width="1" /><text x="243.2" y="342" font-size="7.6" font-weight="bold" fill="#111" text-anchor="start" textLength="15.8" lengthAdjust="spacingAndGlyphs" stroke="#111" stroke-width="0.3" >D21</text><rect x="235.70" y="347.00" width="5.20" height="3.80" fill="#3a9a1a" stroke="none" stroke-width="1" /><text x="243.2" y="351.2" font-size="7.6" font-weight="bold" fill="#111" text-anchor="start" textLength="15.8" lengthAdjust="spacingAndGlyphs" stroke="#111" stroke-width="0.3" >D42</text><rect x="235.70" y="356.30" width="5.20" height="3.80" fill="#8ac050" stroke="none" stroke-width="1" /><text x="243.2" y="360.5" font-size="7.6" font-weight="bold" fill="#111" text-anchor="start" textLength="15.8" lengthAdjust="spacingAndGlyphs" stroke="#111" stroke-width="0.3" >D63</text><rect x="37.80" y="434.00" width="217.40" height="26.40" fill="#e9f0f3" stroke="none" stroke-width="1" /><line x1="37.80" y1="434.00" x2="255.20" y2="434.00" stroke="#3ab0e0" stroke-width="1.3"/><line x1="37.80" y1="460.40" x2="255.20" y2="460.40" stroke="#2a3a9a" stroke-width="1.3"/><line x1="37.80" y1="433.40" x2="37.80" y2="461.00" stroke="#1e6fb8" stroke-width="1.4"/><line x1="255.20" y1="433.40" x2="255.20" y2="461.00" stroke="#2a3a9a" stroke-width="1.4"/><line x1="87.60" y1="434.00" x2="87.60" y2="460.40" stroke="#2a3a9a" stroke-width="1.4"/><line x1="168.40" y1="434.00" x2="168.40" y2="460.40" stroke="#2a3a9a" stroke-width="1.4"/><text x="48.9" y="445.5" font-size="7.4" font-weight="bold" fill="#111" text-anchor="start" textLength="31.6" lengthAdjust="spacingAndGlyphs" stroke="#111" stroke-width="0.3" >1.25 %</text><text x="45.3" y="454.6" font-size="7.4" font-weight="bold" fill="#111" text-anchor="start" textLength="17.2" lengthAdjust="spacingAndGlyphs" stroke="#111" stroke-width="0.3" >DSS</text><text x="68.5" y="454.6" font-size="7.4" font-weight="bold" fill="#111" text-anchor="start" textLength="4" lengthAdjust="spacingAndGlyphs" stroke="#111" stroke-width="0.3" >x</text><text x="75.3" y="454.6" font-size="7.4" font-weight="bold" fill="#111" text-anchor="start" textLength="5.4" lengthAdjust="spacingAndGlyphs" stroke="#111" stroke-width="0.3" >3</text><line x1="125.65" y1="445.30" x2="133.35" y2="445.30" stroke="#111" stroke-width="1.9"/><line x1="129.50" y1="442.80" x2="129.50" y2="447.80" stroke="#111" stroke-width="1.9"/><line x1="211.60" y1="445.30" x2="215.60" y2="445.30" stroke="#111" stroke-width="1.6"/><rect x="312.00" y="27.20" width="231.70" height="139.40" fill="#fff" stroke="#8a8a8a" stroke-width="1.4" /><line x1="311.30" y1="27.20" x2="544.40" y2="27.20" stroke="#555" stroke-width="1.4"/><line x1="311.30" y1="166.60" x2="544.40" y2="166.60" stroke="#c4c4c4" stroke-width="1.4"/><line x1="543.70" y1="27.20" x2="543.70" y2="167.30" stroke="#404040" stroke-width="1.4"/><text x="289.5" y="98.8" font-size="13.5" font-weight="bold" fill="#111" text-anchor="start" stroke="#111" stroke-width="0.35" >D</text><rect x="383.50" y="115.30" width="24.80" height="17.30" fill="url(#kH)" stroke="none" stroke-width="1" /><rect x="408.90" y="86.70" width="23.00" height="45.90" fill="#4176c2" stroke="#0a3ab0" stroke-width="1.2" /><rect x="470.00" y="123.80" width="24.30" height="8.80" fill="url(#kH)" stroke="none" stroke-width="1" /><rect x="494.90" y="118.10" width="23.30" height="14.50" fill="#4176c2" stroke="#0a3ab0" stroke-width="1.2" /><line x1="365.60" y1="45.00" x2="365.60" y2="135.90" stroke="#8a8a8a" stroke-width="1.2"/><line x1="362.80" y1="132.60" x2="365.60" y2="132.60" stroke="#8a8a8a" stroke-width="1"/><text x="356.6" y="135.04999999999998" font-size="8.3" font-weight="bold" fill="#111" text-anchor="end" stroke="#111" stroke-width="0.3" >0</text><line x1="362.80" y1="103.40" x2="365.60" y2="103.40" stroke="#8a8a8a" stroke-width="1"/><text x="356.6" y="105.85" font-size="8.3" font-weight="bold" fill="#111" text-anchor="end" stroke="#111" stroke-width="0.3" >1</text><line x1="362.80" y1="74.20" x2="365.60" y2="74.20" stroke="#8a8a8a" stroke-width="1"/><text x="356.6" y="76.64999999999999" font-size="8.3" font-weight="bold" fill="#111" text-anchor="end" stroke="#111" stroke-width="0.3" >2</text><line x1="362.80" y1="45.00" x2="365.60" y2="45.00" stroke="#8a8a8a" stroke-width="1"/><text x="356.6" y="47.45" font-size="8.3" font-weight="bold" fill="#111" text-anchor="end" stroke="#111" stroke-width="0.3" >3</text><line x1="365.60" y1="132.60" x2="536.00" y2="132.60" stroke="#6e6e6e" stroke-width="1.1"/><line x1="451.00" y1="132.60" x2="451.00" y2="136.10" stroke="#777" stroke-width="1"/><line x1="536.00" y1="132.60" x2="536.00" y2="136.10" stroke="#777" stroke-width="1"/><text x="0" y="0" transform="translate(334,81.9) rotate(-90)" font-size="11.5" font-weight="bold" fill="#111" stroke="#111" stroke-width="0.25" text-anchor="middle" textLength="23.5" lengthAdjust="spacingAndGlyphs">ng/µl</text><line x1="396.50" y1="112.45" x2="396.50" y2="118.29" stroke="#1a1a1a" stroke-width="1.2"/><line x1="393.40" y1="112.45" x2="399.60" y2="112.45" stroke="#1a1a1a" stroke-width="1.2"/><line x1="393.40" y1="118.29" x2="399.60" y2="118.29" stroke="#1a1a1a" stroke-width="1.2"/><line x1="421.10" y1="78.00" x2="421.10" y2="94.35" stroke="#1a1a1a" stroke-width="1.2"/><line x1="418.00" y1="78.00" x2="424.20" y2="78.00" stroke="#1a1a1a" stroke-width="1.2"/><line x1="418.00" y1="94.35" x2="424.20" y2="94.35" stroke="#1a1a1a" stroke-width="1.2"/><line x1="482.00" y1="121.50" x2="482.00" y2="125.30" stroke="#1a1a1a" stroke-width="1.2"/><line x1="478.90" y1="121.50" x2="485.10" y2="121.50" stroke="#1a1a1a" stroke-width="1.2"/><line x1="478.90" y1="125.30" x2="485.10" y2="125.30" stroke="#1a1a1a" stroke-width="1.2"/><line x1="506.50" y1="113.04" x2="506.50" y2="119.46" stroke="#1a1a1a" stroke-width="1.2"/><line x1="503.40" y1="113.04" x2="509.60" y2="113.04" stroke="#1a1a1a" stroke-width="1.2"/><line x1="503.40" y1="119.46" x2="509.60" y2="119.46" stroke="#1a1a1a" stroke-width="1.2"/><line x1="384.20" y1="71.20" x2="420.50" y2="71.20" stroke="#111" stroke-width="1.5"/><path d="M403.60,64.10V66.40M402.10,64.62L405.10,65.88M402.10,65.88L405.10,64.62" stroke="#111" stroke-width="1.25" stroke-linecap="round" fill="none"/><circle cx="403.60" cy="65.25" r="1.1" fill="#111"/><text x="401.8" y="41.3" font-size="12" font-weight="bold" fill="#111" text-anchor="start" textLength="79.3" lengthAdjust="spacingAndGlyphs" stroke="#111" stroke-width="0.3" >100ppm iron</text><rect x="510.70" y="36.90" width="5.60" height="4.00" fill="#2a3a6a" stroke="none" stroke-width="1" /><text x="518.1" y="41.6" font-size="7.6" font-weight="bold" fill="#111" text-anchor="start" textLength="10.9" lengthAdjust="spacingAndGlyphs" stroke="#111" stroke-width="0.3" >D1</text><rect x="510.70" y="47.50" width="5.60" height="4.30" fill="#1020a0" stroke="none" stroke-width="1" /><text x="518.1" y="52.2" font-size="7.6" font-weight="bold" fill="#111" text-anchor="start" textLength="16.7" lengthAdjust="spacingAndGlyphs" stroke="#111" stroke-width="0.3" >D10</text><rect x="320.00" y="141.60" width="217.50" height="21.80" fill="#e9f0f3" stroke="none" stroke-width="1" /><line x1="320.00" y1="141.60" x2="537.50" y2="141.60" stroke="#1a3a4a" stroke-width="1.3"/><line x1="320.00" y1="163.40" x2="537.50" y2="163.40" stroke="#1a2a4a" stroke-width="1.3"/><line x1="320.00" y1="141.00" x2="320.00" y2="164.00" stroke="#1a4a5a" stroke-width="1.4"/><line x1="537.50" y1="141.00" x2="537.50" y2="164.00" stroke="#2a8ac8" stroke-width="1.4"/><line x1="368.70" y1="141.60" x2="368.70" y2="163.40" stroke="#1a5a8a" stroke-width="1.4"/><line x1="450.60" y1="141.60" x2="450.60" y2="163.40" stroke="#1a5a8a" stroke-width="1.4"/><text x="323.9" y="153.8" font-size="8.5" font-weight="bold" fill="#111" text-anchor="start" textLength="37.4" lengthAdjust="spacingAndGlyphs" stroke="#111" stroke-width="0.3" >2 % DSS</text><line x1="407.15" y1="153.10" x2="414.85" y2="153.10" stroke="#111" stroke-width="1.9"/><line x1="411.00" y1="150.60" x2="411.00" y2="155.60" stroke="#111" stroke-width="1.9"/><line x1="493.20" y1="153.50" x2="497.60" y2="153.50" stroke="#333" stroke-width="1.2"/><rect x="312.00" y="171.90" width="231.70" height="140.90" fill="#fff" stroke="#8a8a8a" stroke-width="1.4" /><line x1="311.30" y1="171.90" x2="544.40" y2="171.90" stroke="#777" stroke-width="1.3"/><line x1="311.30" y1="312.80" x2="544.40" y2="312.80" stroke="#555" stroke-width="1.4"/><line x1="543.70" y1="171.90" x2="543.70" y2="313.50" stroke="#404040" stroke-width="1.4"/><text x="292.6" y="247.1" font-size="13.5" font-weight="bold" fill="#111" text-anchor="start" stroke="#111" stroke-width="0.35" >E</text><rect x="380.00" y="270.00" width="25.00" height="10.40" fill="url(#eH)" stroke="none" stroke-width="1" /><rect x="405.60" y="230.60" width="23.30" height="49.80" fill="#c43c3c" stroke="#a00e0e" stroke-width="1.2" /><rect x="468.00" y="265.50" width="25.00" height="14.90" fill="url(#eH)" stroke="none" stroke-width="1" /><rect x="493.60" y="251.90" width="23.30" height="28.50" fill="#c43c3c" stroke="#a00e0e" stroke-width="1.2" /><line x1="360.60" y1="189.20" x2="360.60" y2="283.70" stroke="#8a8a8a" stroke-width="1.2"/><line x1="357.80" y1="280.40" x2="360.60" y2="280.40" stroke="#8a8a8a" stroke-width="1"/><text x="351.3" y="282.84999999999997" font-size="8.3" font-weight="bold" fill="#111" text-anchor="end" stroke="#111" stroke-width="0.3" >0</text><line x1="357.80" y1="250.00" x2="360.60" y2="250.00" stroke="#8a8a8a" stroke-width="1"/><text x="351.3" y="252.44999999999996" font-size="8.3" font-weight="bold" fill="#111" text-anchor="end" stroke="#111" stroke-width="0.3" >1</text><line x1="357.80" y1="219.60" x2="360.60" y2="219.60" stroke="#8a8a8a" stroke-width="1"/><text x="351.3" y="222.04999999999995" font-size="8.3" font-weight="bold" fill="#111" text-anchor="end" stroke="#111" stroke-width="0.3" >2</text><line x1="357.80" y1="189.20" x2="360.60" y2="189.20" stroke="#8a8a8a" stroke-width="1"/><text x="351.3" y="191.64999999999998" font-size="8.3" font-weight="bold" fill="#111" text-anchor="end" stroke="#111" stroke-width="0.3" >3</text><line x1="360.60" y1="280.40" x2="536.70" y2="280.40" stroke="#6e6e6e" stroke-width="1.1"/><line x1="449.20" y1="280.40" x2="449.20" y2="283.90" stroke="#777" stroke-width="1"/><line x1="536.70" y1="280.40" x2="536.70" y2="283.90" stroke="#777" stroke-width="1"/><text x="0" y="0" transform="translate(338.9,235.3) rotate(-90)" font-size="11.5" font-weight="bold" fill="#111" stroke="#111" stroke-width="0.25" text-anchor="middle" textLength="23.2" lengthAdjust="spacingAndGlyphs">ng/µl</text><line x1="392.50" y1="268.85" x2="392.50" y2="272.19" stroke="#1a1a1a" stroke-width="1.2"/><line x1="389.40" y1="268.85" x2="395.60" y2="268.85" stroke="#1a1a1a" stroke-width="1.2"/><line x1="389.40" y1="272.19" x2="395.60" y2="272.19" stroke="#1a1a1a" stroke-width="1.2"/><line x1="417.30" y1="215.34" x2="417.30" y2="244.53" stroke="#1a1a1a" stroke-width="1.2"/><line x1="414.20" y1="215.34" x2="420.40" y2="215.34" stroke="#1a1a1a" stroke-width="1.2"/><line x1="414.20" y1="244.53" x2="420.40" y2="244.53" stroke="#1a1a1a" stroke-width="1.2"/><line x1="480.50" y1="263.07" x2="480.50" y2="268.24" stroke="#1a1a1a" stroke-width="1.2"/><line x1="477.40" y1="263.07" x2="483.60" y2="263.07" stroke="#1a1a1a" stroke-width="1.2"/><line x1="477.40" y1="268.24" x2="483.60" y2="268.24" stroke="#1a1a1a" stroke-width="1.2"/><line x1="505.30" y1="244.83" x2="505.30" y2="258.21" stroke="#1a1a1a" stroke-width="1.2"/><line x1="502.20" y1="244.83" x2="508.40" y2="244.83" stroke="#1a1a1a" stroke-width="1.2"/><line x1="502.20" y1="258.21" x2="508.40" y2="258.21" stroke="#1a1a1a" stroke-width="1.2"/><line x1="377.90" y1="218.50" x2="409.30" y2="218.50" stroke="#111" stroke-width="1.5"/><path d="M394.00,212.10V214.40M392.50,212.62L395.50,213.88M392.50,213.88L395.50,212.62" stroke="#111" stroke-width="1.25" stroke-linecap="round" fill="none"/><circle cx="394.00" cy="213.25" r="1.1" fill="#111"/><text x="398.2" y="186.4" font-size="12" font-weight="bold" fill="#111" text-anchor="start" textLength="79.9" lengthAdjust="spacingAndGlyphs" stroke="#111" stroke-width="0.3" >200ppm iron</text><rect x="512.90" y="181.80" width="5.80" height="3.70" fill="#8a2020" stroke="none" stroke-width="1" /><text x="521.4" y="185.8" font-size="7.6" font-weight="bold" fill="#111" text-anchor="start" textLength="10.5" lengthAdjust="spacingAndGlyphs" stroke="#111" stroke-width="0.3" >D1</text><rect x="512.90" y="193.10" width="5.80" height="4.00" fill="#b01010" stroke="none" stroke-width="1" /><text x="521.4" y="197.5" font-size="7.6" font-weight="bold" fill="#111" text-anchor="start" textLength="15.6" lengthAdjust="spacingAndGlyphs" stroke="#111" stroke-width="0.3" >D10</text><rect x="318.00" y="287.20" width="217.00" height="22.10" fill="#e9f0f3" stroke="none" stroke-width="1" /><line x1="318.00" y1="287.20" x2="535.00" y2="287.20" stroke="#1a3a4a" stroke-width="1.3"/><line x1="318.00" y1="309.30" x2="535.00" y2="309.30" stroke="#1a9ac0" stroke-width="1.3"/><line x1="318.00" y1="286.60" x2="318.00" y2="309.90" stroke="#1a8aa8" stroke-width="1.4"/><line x1="535.00" y1="286.60" x2="535.00" y2="309.90" stroke="#1a8ac8" stroke-width="1.4"/><line x1="367.30" y1="287.20" x2="367.30" y2="309.30" stroke="#1a3a8a" stroke-width="1.4"/><line x1="448.20" y1="287.20" x2="448.20" y2="309.30" stroke="#1a3a8a" stroke-width="1.4"/><text x="322.7" y="299.5" font-size="8.5" font-weight="bold" fill="#111" text-anchor="start" textLength="37.1" lengthAdjust="spacingAndGlyphs" stroke="#111" stroke-width="0.3" >2 % DSS</text><line x1="405.65" y1="299.30" x2="413.35" y2="299.30" stroke="#111" stroke-width="1.9"/><line x1="409.50" y1="296.80" x2="409.50" y2="301.80" stroke="#111" stroke-width="1.9"/><line x1="491.30" y1="300.00" x2="495.70" y2="300.00" stroke="#333" stroke-width="1.2"/><rect x="312.00" y="319.40" width="232.10" height="145.60" fill="#fff" stroke="#8a8a8a" stroke-width="1.4" /><line x1="311.30" y1="319.40" x2="544.80" y2="319.40" stroke="#111" stroke-width="1.8"/><line x1="311.30" y1="465.00" x2="544.80" y2="465.00" stroke="#555" stroke-width="1.4"/><line x1="544.10" y1="319.40" x2="544.10" y2="465.70" stroke="#3a3a3a" stroke-width="1.4"/><text x="294.8" y="388.1" font-size="13.5" font-weight="bold" fill="#111" text-anchor="start" stroke="#111" stroke-width="0.35" >F</text><rect x="387.50" y="423.80" width="23.50" height="9.10" fill="url(#fH)" stroke="none" stroke-width="1" /><rect x="411.60" y="353.30" width="22.10" height="79.60" fill="#9aba52" stroke="#4e8a12" stroke-width="1.2" /><rect x="471.00" y="417.50" width="24.50" height="15.40" fill="url(#fH)" stroke="none" stroke-width="1" /><rect x="496.10" y="398.60" width="22.10" height="34.30" fill="#9aba52" stroke="#4e8a12" stroke-width="1.2" /><line x1="369.50" y1="343.20" x2="369.50" y2="436.20" stroke="#8a8a8a" stroke-width="1.2"/><line x1="366.70" y1="432.90" x2="369.50" y2="432.90" stroke="#8a8a8a" stroke-width="1"/><text x="359.1" y="435.34999999999997" font-size="8.3" font-weight="bold" fill="#111" text-anchor="end" stroke="#111" stroke-width="0.3" >0</text><line x1="366.70" y1="403.00" x2="369.50" y2="403.00" stroke="#8a8a8a" stroke-width="1"/><text x="359.1" y="405.45" font-size="8.3" font-weight="bold" fill="#111" text-anchor="end" stroke="#111" stroke-width="0.3" >1</text><line x1="366.70" y1="373.10" x2="369.50" y2="373.10" stroke="#8a8a8a" stroke-width="1"/><text x="359.1" y="375.54999999999995" font-size="8.3" font-weight="bold" fill="#111" text-anchor="end" stroke="#111" stroke-width="0.3" >2</text><line x1="366.70" y1="343.20" x2="369.50" y2="343.20" stroke="#8a8a8a" stroke-width="1"/><text x="359.1" y="345.65" font-size="8.3" font-weight="bold" fill="#111" text-anchor="end" stroke="#111" stroke-width="0.3" >3</text><line x1="369.50" y1="432.90" x2="536.70" y2="432.90" stroke="#6e6e6e" stroke-width="1.1"/><line x1="452.50" y1="432.90" x2="452.50" y2="436.40" stroke="#777" stroke-width="1"/><line x1="536.70" y1="432.90" x2="536.70" y2="436.40" stroke="#777" stroke-width="1"/><text x="0" y="0" transform="translate(335,374.7) rotate(-90)" font-size="11.5" font-weight="bold" fill="#111" stroke="#111" stroke-width="0.25" text-anchor="middle" textLength="25" lengthAdjust="spacingAndGlyphs">ng/µl</text><line x1="399.50" y1="421.24" x2="399.50" y2="425.72" stroke="#1a1a1a" stroke-width="1.2"/><line x1="396.40" y1="421.24" x2="402.60" y2="421.24" stroke="#1a1a1a" stroke-width="1.2"/><line x1="396.40" y1="425.72" x2="402.60" y2="425.72" stroke="#1a1a1a" stroke-width="1.2"/><line x1="422.50" y1="348.28" x2="422.50" y2="356.65" stroke="#1a1a1a" stroke-width="1.2"/><line x1="419.40" y1="348.28" x2="425.60" y2="348.28" stroke="#1a1a1a" stroke-width="1.2"/><line x1="419.40" y1="356.65" x2="425.60" y2="356.65" stroke="#1a1a1a" stroke-width="1.2"/><line x1="482.50" y1="412.57" x2="482.50" y2="421.54" stroke="#1a1a1a" stroke-width="1.2"/><line x1="479.40" y1="412.57" x2="485.60" y2="412.57" stroke="#1a1a1a" stroke-width="1.2"/><line x1="479.40" y1="421.54" x2="485.60" y2="421.54" stroke="#1a1a1a" stroke-width="1.2"/><line x1="507.00" y1="391.94" x2="507.00" y2="403.60" stroke="#1a1a1a" stroke-width="1.2"/><line x1="503.90" y1="391.94" x2="510.10" y2="391.94" stroke="#1a1a1a" stroke-width="1.2"/><line x1="503.90" y1="403.60" x2="510.10" y2="403.60" stroke="#1a1a1a" stroke-width="1.2"/><line x1="382.50" y1="349.10" x2="413.50" y2="349.10" stroke="#111" stroke-width="1.5"/><path d="M389.60,343.50V345.80M388.10,344.02L391.10,345.28M388.10,345.28L391.10,344.02" stroke="#111" stroke-width="1.25" stroke-linecap="round" fill="none"/><circle cx="389.60" cy="344.65" r="1.1" fill="#111"/><path d="M395.93,343.50V345.80M394.43,344.02L397.43,345.28M394.43,345.28L397.43,344.02" stroke="#111" stroke-width="1.25" stroke-linecap="round" fill="none"/><circle cx="395.93" cy="344.65" r="1.1" fill="#111"/><path d="M402.27,343.50V345.80M400.77,344.02L403.77,345.28M400.77,345.28L403.77,344.02" stroke="#111" stroke-width="1.25" stroke-linecap="round" fill="none"/><circle cx="402.27" cy="344.65" r="1.1" fill="#111"/><path d="M408.60,343.50V345.80M407.10,344.02L410.10,345.28M407.10,345.28L410.10,344.02" stroke="#111" stroke-width="1.25" stroke-linecap="round" fill="none"/><circle cx="408.60" cy="344.65" r="1.1" fill="#111"/><line x1="469.70" y1="383.30" x2="505.80" y2="383.30" stroke="#111" stroke-width="1.5"/><path d="M487.00,376.70V379.00M485.50,377.22L488.50,378.48M485.50,378.48L488.50,377.22" stroke="#111" stroke-width="1.25" stroke-linecap="round" fill="none"/><circle cx="487.00" cy="377.85" r="1.1" fill="#111"/><text x="402.2" y="334.5" font-size="12" font-weight="bold" fill="#111" text-anchor="start" textLength="79.9" lengthAdjust="spacingAndGlyphs" stroke="#111" stroke-width="0.3" >400ppm iron</text><rect x="506.00" y="328.40" width="5.60" height="4.50" fill="#7a9440" stroke="none" stroke-width="1" /><text x="514.4" y="333.6" font-size="7.6" font-weight="bold" fill="#111" text-anchor="start" textLength="10.7" lengthAdjust="spacingAndGlyphs" stroke="#111" stroke-width="0.3" >D1</text><rect x="506.00" y="339.50" width="5.60" height="4.70" fill="#4a9a1a" stroke="none" stroke-width="1" /><text x="514.4" y="344.5" font-size="7.6" font-weight="bold" fill="#111" text-anchor="start" textLength="15.4" lengthAdjust="spacingAndGlyphs" stroke="#111" stroke-width="0.3" >D10</text><rect x="320.00" y="438.90" width="216.30" height="23.20" fill="#e9f0f3" stroke="none" stroke-width="1" /><line x1="320.00" y1="438.90" x2="536.30" y2="438.90" stroke="#1a3a4a" stroke-width="1.3"/><line x1="320.00" y1="462.10" x2="536.30" y2="462.10" stroke="#1a4a6a" stroke-width="1.3"/><line x1="320.00" y1="438.30" x2="320.00" y2="462.70" stroke="#1a5a6a" stroke-width="1.4"/><line x1="536.30" y1="438.30" x2="536.30" y2="462.70" stroke="#1a5a7a" stroke-width="1.4"/><line x1="368.50" y1="438.90" x2="368.50" y2="462.10" stroke="#1a5a7a" stroke-width="1.4"/><line x1="450.50" y1="438.90" x2="450.50" y2="462.10" stroke="#1a5a7a" stroke-width="1.4"/><text x="324.2" y="451.3" font-size="8.5" font-weight="bold" fill="#111" text-anchor="start" textLength="37.1" lengthAdjust="spacingAndGlyphs" stroke="#111" stroke-width="0.3" >2 % DSS</text><line x1="408.15" y1="450.00" x2="415.85" y2="450.00" stroke="#111" stroke-width="1.9"/><line x1="412.00" y1="447.50" x2="412.00" y2="452.50" stroke="#111" stroke-width="1.9"/><line x1="492.70" y1="451.30" x2="497.30" y2="451.30" stroke="#111" stroke-width="1.8"/></svg>
</body></html>
